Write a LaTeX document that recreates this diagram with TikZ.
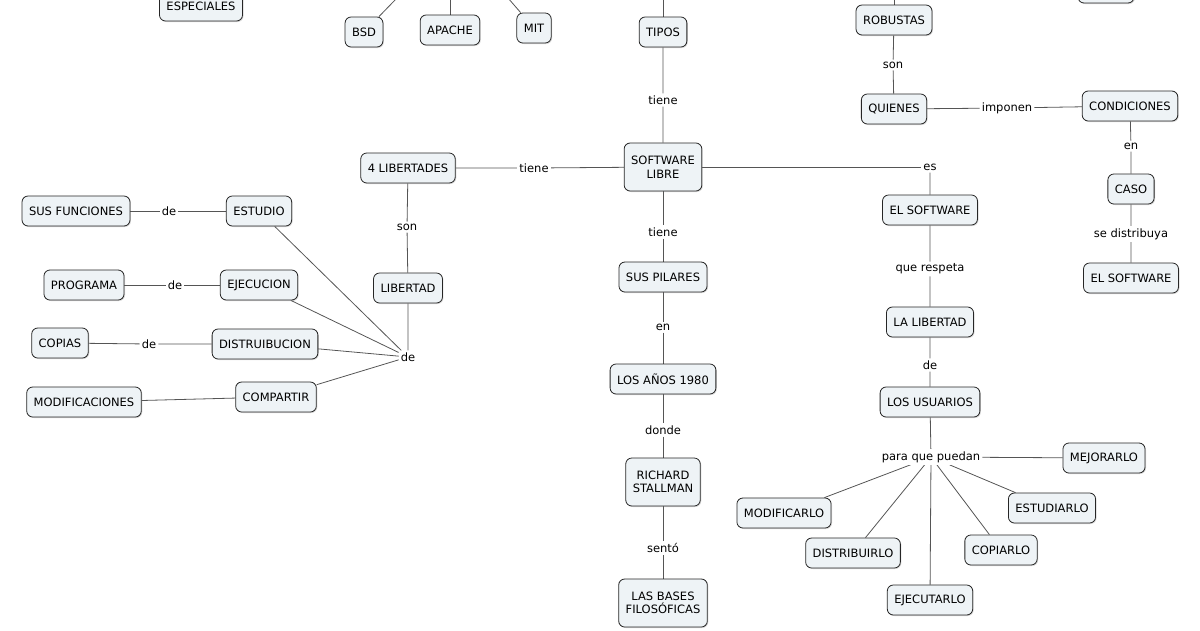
\documentclass[tikz,border=0pt]{standalone}
\usepackage{fontspec}
\setmainfont{DejaVu Sans}
\usetikzlibrary{shadows,backgrounds}
\definecolor{boxfill}{HTML}{EEF3F6}
\definecolor{ln}{HTML}{555555}
\begin{document}
\begin{tikzpicture}[x=1pt,y=-1pt,
  c/.style={draw=black!85,fill=boxfill,rounded corners=6pt,line width=0.8pt,inner xsep=7pt,minimum height=30pt,align=center,font=\fontsize{11.5}{13.5}\selectfont,drop shadow={shadow xshift=1pt,shadow yshift=-1pt,opacity=0.3}},
  l/.style={fill=white,inner sep=2pt,font=\fontsize{11.5}{13.5}\selectfont},
  k/.style={draw=ln,line width=0.8pt}]
\useasboundingbox (0,0) rectangle (1200,630);
\clip (0,0) rectangle (1200,630);
% top partial
\node[c] (esp) at (201,6) {ESPECIALES};
\node[c] (bsd) at (364,32) {BSD};
\node[c] (apa) at (450,30) {APACHE};
\node[c] (mit) at (534,28) {MIT};
\coordinate (t1) at (397,-2); \coordinate (t2) at (450,-2); \coordinate (t3) at (508,-2);
\node[c] (tip) at (663,32) {TIPOS};
\coordinate (t4) at (663,-2);
\node[c] (rob) at (894,20) {ROBUSTAS};
\coordinate (t5) at (894,-2);
\node[c,minimum width=56pt] (tr) at (1106,-12) {\phantom{X}};
% right top
\node[l] (son2) at (893,65) {son};
\node[c] (qui) at (894,109) {QUIENES};
\node[l] (imp) at (1007,108) {imponen};
\node[c] (cond) at (1130,106) {CONDICIONES};
\node[l] (en2) at (1131,146) {en};
\node[c] (caso) at (1131,189) {CASO};
\node[l] (sed) at (1131,234) {se distribuya};
\node[c] (els2) at (1131,278) {EL SOFTWARE};
% center
\node[c,minimum height=48pt] (sl) at (663,167) {SOFTWARE\\LIBRE};
\node[l] (ti1) at (663,100) {tiene};
\node[l] (ti2) at (534,168) {tiene};
\node[c] (4l) at (408,168) {4 LIBERTADES};
\node[l] (son1) at (407,227) {son};
\node[c] (lib) at (408,288) {LIBERTAD};
\node[l] (de0) at (408,357) {de};
\node[l] (es) at (930,167) {es};
\node[c] (els) at (930,210) {EL SOFTWARE};
\node[l] (qr) at (930,269) {que respeta};
\node[c] (lal) at (930,322) {LA LIBERTAD};
\node[l] (de5) at (930,365) {de};
\node[c] (lu) at (930,402) {LOS USUARIOS};
\node[l] (pqp) at (931,457) {para que puedan};
\node[c] (mej) at (1104,458) {MEJORARLO};
\node[c] (mod) at (784,513) {MODIFICARLO};
\node[c] (est2) at (1052,508) {ESTUDIARLO};
\node[c] (dis) at (853,553) {DISTRIBUIRLO};
\node[c] (cop) at (1001,550) {COPIARLO};
\node[c] (eje2) at (930,600) {EJECUTARLO};
\node[l] (ti3) at (663,232) {tiene};
\node[c] (sp) at (663,277) {SUS PILARES};
\node[l] (en1) at (663,327) {en};
\node[c] (la) at (663,379) {LOS AÑOS 1980};
\node[l] (don) at (663,430) {donde};
\node[c,minimum height=48pt] (rs) at (663,482) {RICHARD\\STALLMAN};
\node[l] (sen) at (663,548) {sentó};
\node[c,minimum height=48pt] (lb) at (663,603) {LAS BASES\\FILOSÓFICAS};
% left
\node[c] (sf) at (76,211) {SUS FUNCIONES};
\node[l] (de1) at (169,211) {de};
\node[c] (est) at (259,211) {ESTUDIO};
\node[c] (pro) at (84,285) {PROGRAMA};
\node[l] (de2) at (175,285) {de};
\node[c] (eje) at (259,285) {EJECUCION};
\node[c] (cops) at (60,343) {COPIAS};
\node[l] (de3) at (149,344) {de};
\node[c] (dst) at (265,344) {DISTRUIBUCION};
\node[c] (mods) at (84,402) {MODIFICACIONES};
\node[c] (com) at (276,397) {COMPARTIR};
% connectors
\begin{scope}[on background layer]
\draw[k] (bsd) -- (t1); \draw[k] (apa) -- (t2); \draw[k] (mit) -- (t3);
\draw[k] (tip) -- (t4); \draw[k] (rob) -- (t5);
\draw[k] (rob) -- (son2) -- (qui) -- (imp) -- (cond) -- (en2) -- (caso) -- (sed) -- (els2);
\draw[k] (tip) -- (ti1) -- (sl) -- (ti2) -- (4l) -- (son1) -- (lib) -- (de0);
\draw[k] (sl.east) -- (es.west); \draw[k] (es) -- (els) -- (qr) -- (lal) -- (de5) -- (lu) -- (pqp);
\draw[k] (pqp) -- (mej); \draw[k] (pqp) -- (mod); \draw[k] (pqp) -- (est2);
\draw[k] (pqp) -- (dis); \draw[k] (pqp) -- (cop); \draw[k] (pqp) -- (eje2);
\draw[k] (sl) -- (ti3) -- (sp) -- (en1) -- (la) -- (don) -- (rs) -- (sen) -- (lb);
\draw[k] (de0) -- (est); \draw[k] (de0) -- (eje); \draw[k] (de0) -- (dst); \draw[k] (de0) -- (com);
\draw[k] (est) -- (de1) -- (sf); \draw[k] (eje) -- (de2) -- (pro); \draw[k] (dst) -- (de3) -- (cops);
\draw[k] (com) -- (mods);
\end{scope}
\end{tikzpicture}
\end{document}
